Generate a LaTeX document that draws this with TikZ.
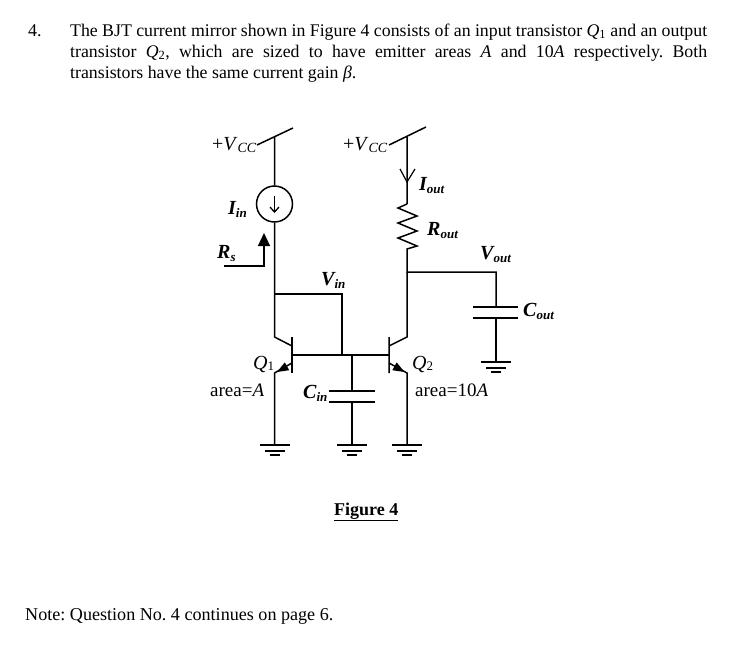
\documentclass[tikz,border=0pt]{standalone}
\usepackage{fontspec}
\setmainfont{Liberation Serif}
\usetikzlibrary{arrows.meta}
\newcommand{\lsub}[1]{\raisebox{-3pt}{\fontsize{13}{13}\selectfont #1}}
\frenchspacing
\tikzset{
  wire/.style={line width=1.5pt},
  thin wire/.style={line width=1.2pt},
  txt/.style={inner sep=0pt,anchor=base west,font=\fontsize{18}{18}\selectfont},
  area/.style={inner sep=0pt,anchor=base west,font=\fontsize{19}{19}\selectfont},
  lab/.style={inner sep=0pt,anchor=base west,font=\fontsize{20}{20}\selectfont\bfseries\itshape},
  ground/.pic={\draw[wire] (-15,0) -- (15,0) (-10,6) -- (10,6) (-5,10) -- (5,10);}
}
\begin{document}
\begin{tikzpicture}[x=1pt,y=-1pt]
\useasboundingbox (0,0) rectangle (748,659);
% question text
\node[txt] (num) at (28,36) {4.};
\node[txt,font=\fontsize{17.8}{18}\selectfont] (l1) at (70,36) {\makebox[637pt][s]{The BJT current mirror shown in Figure 4 consists of an input transistor \textit{Q}\textsubscript{1} and an output}};
\node[txt,font=\fontsize{17.8}{18}\selectfont] (l2) at (70,57) {\makebox[637pt][s]{transistor \textit{Q}\textsubscript{2}, which are sized to have emitter areas \textit{A} and 10\textit{A} respectively. Both}};
\node[txt,font=\fontsize{17.8}{18}\selectfont] (l3) at (70,78) {transistors have the same current gain \textit{β}.};
% junctions and end points
\coordinate (vl) at (274.5,137); \coordinate (vla) at (257,145); \coordinate (vlb) at (293,128);
\coordinate (vr) at (407,137); \coordinate (vra) at (389,145); \coordinate (vrb) at (426,127);
\coordinate (rt) at (407,204); \coordinate (rb) at (407,249);
\coordinate (j1) at (274.5,294); \coordinate (j1r) at (342,294); \coordinate (jb) at (342,355);
\coordinate (c1) at (274.5,337); \coordinate (e1) at (274.5,373);
\coordinate (c2) at (407,337); \coordinate (e2) at (407,373);
\coordinate (b1) at (292,355); \coordinate (b2) at (389,355);
\coordinate (jc) at (352,355); \coordinate (cit) at (352,391); \coordinate (cib) at (352,402);
\coordinate (jo) at (407,272); \coordinate (jor) at (496,272);
\coordinate (cot) at (496,307); \coordinate (cob) at (496,318);
\coordinate (g1) at (274.5,445); \coordinate (g2) at (352,445); \coordinate (g3) at (407,445); \coordinate (g4) at (496,362);
% input side
\node[circle,draw,line width=1.5pt,minimum size=36pt,inner sep=0pt] (is) at (274.5,204) {};
\draw[wire] (vla) -- (vlb) (vl) -- (is.north) (is.south) -- (j1) -- (c1) -- (292,346);
\draw[line width=1.3pt,-{Straight Barb[length=5pt,width=9pt]}] (274.5,196) -- (274.5,213);
\draw[wire] (j1) -- (j1r) -- (jb);
\draw[thin wire,-{Triangle[length=13pt,width=12pt]}] (224,266) -- (264,266) -- (264,233);
% Q1
\draw[wire] (292,337) -- (292,373) (b1) -- (b2);
\draw[wire] (292,363) -- (e1) -- (g1);
\fill (277,372) -- (284.8,362.4) -- (289.2,370.2) -- cycle;
% Q2
\draw[wire] (389,337) -- (389,373) (389,346) -- (c2) -- (jo);
\draw[wire] (389,363) -- (e2) -- (g3);
\fill (404.5,372) -- (396.7,362.4) -- (392.3,370.2) -- cycle;
% output side
\draw[wire] (vra) -- (vrb) (vr) -- (rt);
\draw[thin wire] (400,169) -- (407,182) -- (415,169);
\draw[wire] (rt) -- (398,208) -- (417,216) -- (398,223) -- (417,231) -- (398,238) -- (417,246) -- (rb) -- (jo) -- (jor) -- (cot);
\draw[wire] (473,307) -- (518,307) (473,318) -- (518,318) (cob) -- (g4);
% Cin
\draw[wire] (jc) -- (cit) (329,391) -- (375,391) (329,402) -- (375,402) (cib) -- (g2);
% grounds
\pic at (g1) {ground}; \pic at (g2) {ground}; \pic at (g3) {ground}; \pic at (g4) {ground};
% labels
\node[txt,font=\fontsize{20}{20}\selectfont] (lvl) at (212,150) {+\textit{V}\raisebox{-2pt}{\fontsize{14}{14}\selectfont\textit{CC}}};
\node[txt,font=\fontsize{20}{20}\selectfont] (lvr) at (343,150) {+\textit{V}\raisebox{-2pt}{\fontsize{14}{14}\selectfont\textit{CC}}};
\node[lab] (lin) at (228,214) {I\lsub{in}};
\node[lab] (lrs) at (217,258) {R\lsub{s}};
\node[lab] (lvin) at (321,285) {V\lsub{in}};
\node[lab] (liout) at (419,190) {I\lsub{out}};
\node[lab] (lrout) at (427,235) {R\lsub{out}};
\node[lab] (lvout) at (480,259) {V\lsub{out}};
\node[lab] (lcout) at (523,316) {C\lsub{out}};
\node[lab] (lcin) at (303,398) {C\lsub{in}};
\node[txt,font=\fontsize{20}{20}\selectfont] (lq1) at (253,369) {\textit{Q}\raisebox{-1pt}{\fontsize{13}{13}\selectfont 1}};
\node[txt,font=\fontsize{20}{20}\selectfont] (lq2) at (412,369) {\textit{Q}\raisebox{-1pt}{\fontsize{13}{13}\selectfont 2}};
\node[area] (la1) at (210,396) {area=\textit{A}};
\node[area] (la2) at (415,396) {area=10\textit{A}};
\node[txt,font=\fontsize{18}{18}\selectfont\bfseries] (fig) at (334,515) {\underline{Figure 4}};
\node[txt] (note) at (25,620) {\fontsize{18.1}{18}\selectfont Note: Question No. 4 continues on page 6.};
\end{tikzpicture}
\end{document}
